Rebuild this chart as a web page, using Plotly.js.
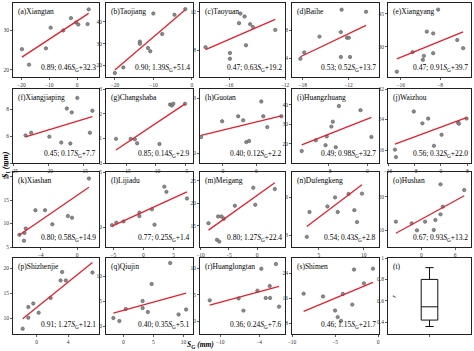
<!DOCTYPE html>
<html><head><meta charset="utf-8">
<script src="https://cdn.plot.ly/plotly-3.0.1.min.js"></script>
<style>html,body{margin:0;padding:0;background:#fff;}#chart{width:474px;height:351px;}</style>
</head><body><div id="chart"></div>
<script>
// ---- data ----
const siteNames = ["Xiangtan","Taojiang","Taoyuan","Baihe","Xiangyang","Xiangjiaping","Changshaba","Guotan","Huangzhuang","Waizhou","Xiashan","Lijiadu","Meigang","Dufengkeng","Hushan","Shizhenjie","Qiujin","Huanglongtan","Shimen"];
const panelTags = ["a","b","c","d","e","f","g","h","i","j","k","l","m","n","o","p","q","r","s","t"];

const xa = [4.1,-2.25,-0.4,0.4,3.7,-9.5,-5.0,-19.8,-11.2,-17.25];
const ya = [35.2,33.0,31.9,31.4,31.5,30.6,29.9,25.2,25.4,21.3];
const xb = [-1.7,-10.0,-4.5,-7.7,-13.5,-13.5,-11.4,-10.8,-17.8,-20.0];
const yb = [45.8,43.8,43.2,34.4,30.9,29.9,28.0,26.5,19.1,16.5];
const xc = [-15.2,-14.9,-15.3,-14.5,-14.3,-12.7,-14.8,-17.7,-15.95,-15.95];
const yc = [11.8,11.5,10.8,10.7,10.4,10.1,8.5,8.3,7.7,7.1];
const xd = [-12.9,-9.7,-15.8,-13.0,-12.2,-11.95,-17.8,-18.3,-13.0,-11.8];
const yd = [10.9,10.6,7.06,7.7,6.9,6.9,4.8,3.9,4.15,4.15];
const xe = [-8.4,-10.7,-9.4,-4.5,-3.3,-13.6,-9.4,-11.3,-11.5,-16.8];
const ye = [46.8,36.8,36.0,33.0,29.3,27.5,27.0,25.8,24.0,18.6];
const xf = [-15.9,-17.4,-16.7,-13.75,-14.1,-23.3,-22.5,-19.9,-18.2,-16.9];
const yf = [8.84,8.05,7.76,7.88,6.25,6.05,6.25,5.96,5.52,5.45];
const xg = [-5.05,-7.6,-7.3,-7.05,-16.8,-14.3,-13.6,-13.2,-9.4];
const yg = [2.4,2.37,2.33,2.4,0.98,0.98,0.96,0.8,0.77];
const xh = [-3.9,-0.13,2.75,3.65,6.9,7.25,7.97,10.5,4.2,4.7];
const yh = [0.88,1.74,2.01,1.79,2.82,2.01,1.42,2.01,0.6,0.66];
const xi = [-5.85,-1.4,-7.1,-7.4,-8.35,-10.6,-8.6,-6.5,0.84,-13.5];
const yi = [39.3,37.2,31.3,28.8,23.8,21.8,19.3,18.3,23.5,16.3];
const xj = [-8.2,-3.85,-5.6,5.2,5.45,7.75,0.2,-2.1,-13.9,-13.6];
const yj = [26.1,24.25,23.0,23.15,22.9,24.25,20.0,17.1,16.1,14.15];
const xk = [1.3,-4.55,-3.5,-1.0,-0.55,-2.7,-5.6,-5.75,-6.3,-5.8];
const yk = [19.6,12.85,12.85,11.6,11.25,9.85,8.95,8.0,7.6,6.35];
const xl = [3.45,3.8,7.2,-0.67,-0.67,1.4,1.83,-3.3,-4.5,-5.2];
const yl = [3.67,3.2,2.6,1.32,1.0,1.62,0.22,0.52,0.4,0.18];
const xm = [-8.6,-6.9,-6.3,-5.9,-7.1,-6.7,-3.95,-0.7,-0.35,3.1];
const ym = [15.6,17.1,17.1,16.6,11.9,11.5,19.5,23.5,19.7,23.2];
const xn = [9.8,8.3,6.8,5.95,3.95,7.1,8.95,9.25,3.65];
const yn = [6.3,6.27,6.0,5.29,4.85,4.85,5.0,4.06,2.9];
const xo = [3.4,7.6,3.8,3.4,2.5,-4.5,0.67,-1.7,-0.77,2.2];
const yo = [23.7,22.0,17.0,14.7,13.0,12.5,12.5,12.0,9.9,10.0];
const xp = [7.07,3.23,3.03,3.7,1.77,-1.06,-0.43,0.25,-1.06,-1.77];
const yp = [19.1,19.2,17.5,17.5,14.0,12.2,12.9,11.06,10.06,7.86];
const xq = [7.8,4.7,3.2,3.2,4.07,0.4,-1.67,-0.67,9.2,10.45];
const yq = [12.7,8.5,5.1,3.7,2.9,3.5,1.7,1.1,2.4,3.4];
const xr = [-11.6,-7.15,-1.4,-3.65,-4.26,-2.35,-2.97,-2.3,-6.4,-0.92];
const yr = [3.93,4.3,10.76,9.88,5.75,6.63,4.38,4.38,2.0,2.75];
const xs = [-8.65,-6.4,-4.1,-2.8,-0.6,-1.65,-3.0,-5.0,-4.7,-4.3];
const ys = [17.4,16.5,17.3,25.1,25.4,20.7,13.9,12.0,9.9,8.7];

// printed statistics (r; slope S_G + intercept)
const rText = ["0.89","0.90","0.47","0.53","0.47","0.45","0.85","0.40","0.49","0.56","0.80","0.77","0.80","0.54","0.67","0.91","0.40","0.36","0.46"];
const slopeText = ["0.46","1.39","0.63","0.52","0.91","0.17","0.14","0.12","0.98","0.32","0.58","0.25","1.27","0.43","0.93","1.27","0.35","0.24","1.15"];
const interceptText = ["32.3","51.4","19.2","13.7","39.7","7.7","2.9","2.2","32.7","22.0","14.9","1.4","22.4","2.8","13.2","12.1","5.1","7.6","21.7"];

// fitted red lines as they appear in the picture
const lineSlope = [0.46,1.51,0.63,0.52,0.91,0.157,0.159,0.074,0.98,0.32,1.34,0.25,0.9,0.535,0.93,1.27,0.33,0.33,1.15];
const lineIntercept = [32.3,48.1,19.2,13.7,39.7,9.6,3.2,1.26,32.7,22.0,16.0,1.4,21.8,1.76,13.2,12.1,3.25,6.86,21.7];

// panel (t) box plot of r
const boxLower = [0.36], boxQ1 = [0.42], boxMedian = [0.544], boxQ3 = [0.80], boxUpper = [0.91];

// axis scales
const xRanges = [[-23,7.8],[-22.3,0.3],[-18.1,-12],[-19.4,-8],[-18.6,-1.7],[-25.1,-12.8],[-18.5,-3.7],[-4.1,11.15],[-15.5,2.4],[-16,9.1],[-7,2.4],[-6.2,8.2],[-10.1,4.9],[2,11.7],[-5.9,8.8],[-3,7.9],[-2.9,11.6],[-13.1,0],[-10,0.1],[-1,1]];
const yRanges = [[18.2,36.8],[14.7,48.6],[5.2,12.9],[1.3,11.85],[16.2,49.8],[4,9.5],[0,3],[-0.54,3.5],[10.2,48],[12.6,32],[5,21],[-1.8,5],[10.3,27],[2.1,8],[4.9,27.4],[6.8,22],[-1.5,13.7],[-2.4,11.9],[4.5,28.8],[0.29,1.0]];
const xTicks = [[-20,-10,0],[-20,-10,0],[-16,-12],[-18,-12],[-16,-8],[-25,-20,-15],[-15,-10,-5],[0,6],[-8,0],[-16,-8,0,8],[-4,0],[-5,0,5],[-10,-5,0,5],[5,10],[-6,0,6],[0,4,8],[0,5,10],[-10,-4],[-10,-5,0],[0]];
const yTicks = [[20,30],[20,30,40],[8,12],[4,8,12],[30,45],[4,6,8],[0,1,2,3],[0,3],[10,20,30,40],[16,24,32],[5,10,15,20],[0,5],[10,15,20,25],[3,6],[10,20],[10,15,20],[0,5,10],[0,5,10],[8,16,24],[0.4,0.6,0.8,1.0]];

const xDataAll = [xa,xb,xc,xd,xe,xf,xg,xh,xi,xj,xk,xl,xm,xn,xo,xp,xq,xr,xs];
const yDataAll = [ya,yb,yc,yd,ye,yf,yg,yh,yi,yj,yk,yl,ym,yn,yo,yp,yq,yr,ys];

// ---- layout geometry (pixels) ----
const W = 474, H = 351;
const colL = [13,106,200,292,388], colR = [99,193,285,379,471];
const rowT = [3,89,172,258], rowB = [77,163,247,334];
const FONT = "Liberation Serif, Times New Roman, serif";

const traces = [];
const layout = {
  width: W, height: H, margin: {l:0,r:0,t:0,b:0},
  paper_bgcolor: "#fff", plot_bgcolor: "#fff", showlegend: false,
  font: {family: FONT, size: 6, color: "#000"},
  annotations: []
};

for (let i = 0; i < 20; i++) {
  const c = i % 5, r = Math.floor(i / 5), n = i + 1;
  const xk_ = n === 1 ? "xaxis" : "xaxis" + n, yk_ = n === 1 ? "yaxis" : "yaxis" + n;
  const xr_ = n === 1 ? "x" : "x" + n, yr_ = n === 1 ? "y" : "y" + n;
  const common = {showline: true, mirror: true, linecolor: "#222", linewidth: 1, ticks: "outside", ticklen: 2, tickwidth: 0.8, tickcolor: "#333", showgrid: false, zeroline: false, tickfont: {family: FONT, size: 5.5, color: "#333"}, fixedrange: true};
  layout[xk_] = Object.assign({}, common, {domain: [colL[c]/W, colR[c]/W], range: xRanges[i], tickvals: xTicks[i], anchor: yr_, showticklabels: i !== 19});
  layout[yk_] = Object.assign({}, common, {domain: [1 - rowB[r]/H, 1 - rowT[r]/H], range: yRanges[i], tickvals: yTicks[i], anchor: xr_, ticklabelstandoff: 0});

  if (i < 19) {
    const xs_ = xDataAll[i], ys_ = yDataAll[i];
    traces.push({type: "scatter", mode: "markers", x: xs_, y: ys_, xaxis: xr_, yaxis: yr_,
      marker: {size: 3.4, color: "#8c8c8c", line: {color: "#555", width: 0.6}}, hoverinfo: "skip"});
    const x0 = Math.min(...xs_), x1 = Math.max(...xs_);
    traces.push({type: "scatter", mode: "lines", x: [x0, x1], y: [lineSlope[i]*x0 + lineIntercept[i], lineSlope[i]*x1 + lineIntercept[i]],
      xaxis: xr_, yaxis: yr_, line: {color: "#e3202c", width: 1.3}, hoverinfo: "skip"});
    layout.annotations.push({xref: xr_ + " domain", yref: yr_ + " domain", x: 0.04, y: 0.97, xanchor: "left", yanchor: "top",
      text: "(" + panelTags[i] + ")" + siteNames[i], showarrow: false, font: {family: FONT, size: 7.5, color: "#000"}});
    layout.annotations.push({xref: xr_ + " domain", yref: yr_ + " domain", x: 0.985, y: 0.03, xanchor: "right", yanchor: "bottom",
      text: rText[i] + "; " + slopeText[i] + "<i>S</i><sub>G</sub>+" + interceptText[i], showarrow: false, font: {family: FONT, size: 7.5, color: "#000"}});
  } else {
    traces.push({type: "box", x: [0], q1: boxQ1, median: boxMedian, q3: boxQ3, lowerfence: boxLower, upperfence: boxUpper,
      xaxis: xr_, yaxis: yr_, width: 0.4, whiskerwidth: 0.5, fillcolor: "#fff", line: {color: "#111", width: 1}, boxpoints: false, hoverinfo: "skip"});
    layout.annotations.push({xref: xr_ + " domain", yref: yr_ + " domain", x: 0.04, y: 0.97, xanchor: "left", yanchor: "top",
      text: "(t)", showarrow: false, font: {family: FONT, size: 7.5, color: "#000"}});
    layout.annotations.push({xref: xr_ + " domain", yref: yr_ + " domain", x: 0.07, y: 0.5, xanchor: "center", yanchor: "middle",
      text: "<i>r</i>", textangle: -90, showarrow: false, font: {family: FONT, size: 7, color: "#000"}});
  }
}

layout.annotations.push({xref: "paper", yref: "paper", x: 6/W, y: 1 - 165/H, xanchor: "center", yanchor: "middle", textangle: -90,
  text: "<b><i>S</i><sub>I</sub> <i>(mm)</i></b>", showarrow: false, font: {family: FONT, size: 8, color: "#000"}});
layout.annotations.push({xref: "paper", yref: "paper", x: 200/W, y: 1 - 345/H, xanchor: "center", yanchor: "middle",
  text: "<b><i>S</i><sub>G</sub> <i>(mm)</i></b>", showarrow: false, font: {family: FONT, size: 7.5, color: "#000"}});

Plotly.newPlot("chart", traces, layout, {staticPlot: true, displayModeBar: false});
</script>
</body></html>
